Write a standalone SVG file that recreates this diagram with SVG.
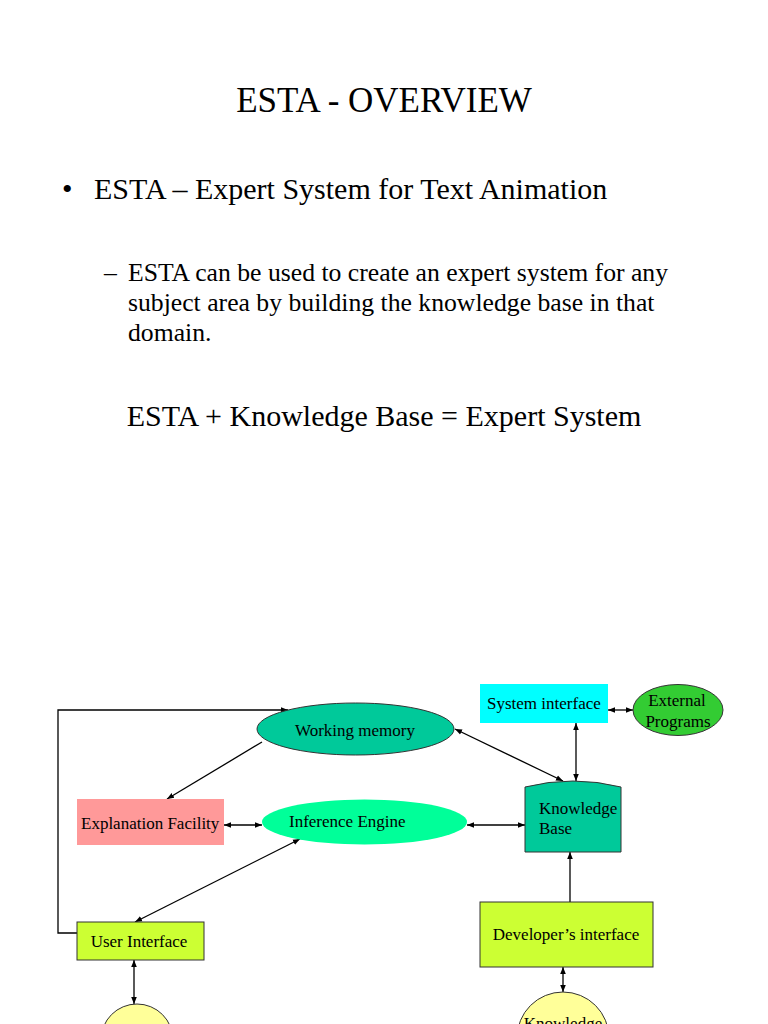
<svg xmlns="http://www.w3.org/2000/svg" width="768" height="1024" viewBox="0 0 768 1024">
<defs>
<marker id="ah" viewBox="0 0 10 10" refX="10" refY="5" markerWidth="7" markerHeight="7" markerUnits="userSpaceOnUse" orient="auto-start-reverse"><path d="M0,1 L10,5 L0,9 Z" fill="#000"/></marker>
<style>
text{font-family:"Liberation Serif","Times New Roman",serif;fill:#000}
.lbl{font-size:17px}
.c{fill:none;stroke:#000;stroke-width:1.3}
.s{stroke:#333;stroke-width:1}
</style>
</defs>
<rect width="768" height="1024" fill="#fff"/>
<text x="384" y="112" font-size="35" text-anchor="middle">ESTA - OVERVIEW</text>
<text x="62" y="199" font-size="30">•</text>
<text x="94" y="199" font-size="30">ESTA – Expert System for Text Animation</text>
<text x="104" y="281" font-size="25.7">–</text>
<text x="128" y="281" font-size="25.7">ESTA can be used to create an expert system for any</text>
<text x="128" y="311" font-size="25.7">subject area by building the knowledge base in that</text>
<text x="128" y="341" font-size="25.7">domain.</text>
<text x="384" y="426" font-size="30" text-anchor="middle">ESTA + Knowledge Base = Expert System</text>

<g id="connectors">
<polyline class="c" points="77,933 58,933 58,710 288,710" marker-end="url(#ah)"/>
<line class="c" x1="262" y1="742" x2="167" y2="799" marker-end="url(#ah)"/>
<line class="c" x1="224" y1="825" x2="262" y2="825" marker-start="url(#ah)" marker-end="url(#ah)"/>
<line class="c" x1="467" y1="825" x2="525" y2="825" marker-start="url(#ah)" marker-end="url(#ah)"/>
<line class="c" x1="455" y1="729" x2="563" y2="781" marker-start="url(#ah)" marker-end="url(#ah)"/>
<line class="c" x1="576" y1="723" x2="576" y2="781" marker-start="url(#ah)" marker-end="url(#ah)"/>
<line class="c" x1="608" y1="710" x2="633" y2="710" marker-start="url(#ah)" marker-end="url(#ah)"/>
<line class="c" x1="570" y1="902" x2="570" y2="852" marker-end="url(#ah)"/>
<line class="c" x1="563" y1="967" x2="563" y2="992" marker-start="url(#ah)" marker-end="url(#ah)"/>
<line class="c" x1="135" y1="922" x2="300" y2="839" marker-start="url(#ah)" marker-end="url(#ah)"/>
<line class="c" x1="134" y1="960" x2="134" y2="1004" marker-start="url(#ah)" marker-end="url(#ah)"/>
</g>

<g id="working-memory">
<ellipse cx="355.5" cy="729" rx="98.5" ry="26" fill="#00C99A" class="s"/>
<text x="355" y="736" class="lbl" text-anchor="middle">Working memory</text>
</g>
<g id="explanation-facility">
<rect x="77" y="799" width="147" height="46" fill="#FF9999"/>
<text x="81" y="829" class="lbl">Explanation Facility</text>
</g>
<g id="inference-engine">
<ellipse cx="364.5" cy="822" rx="102.5" ry="22.5" fill="#00FF99"/>
<text x="289" y="827" class="lbl">Inference Engine</text>
</g>
<g id="system-interface">
<rect x="480" y="684" width="128" height="39" fill="#00FFFF"/>
<text x="487" y="709" class="lbl">System interface</text>
</g>
<g id="external-programs">
<ellipse cx="678" cy="710" rx="45" ry="25.5" fill="#33CC33" class="s"/>
<text x="677" y="706" class="lbl" text-anchor="middle">External</text>
<text x="678" y="727" class="lbl" text-anchor="middle">Programs</text>
</g>
<g id="knowledge-base">
<path d="M525,787 Q573,775 621,787 L621,852 L525,852 Z" fill="#00C99A" class="s"/>
<text x="539" y="814" class="lbl">Knowledge</text>
<text x="539" y="834" class="lbl">Base</text>
</g>
<g id="developers-interface">
<rect x="480" y="902" width="173" height="65" fill="#CCFF33" class="s"/>
<text x="566" y="940" class="lbl" text-anchor="middle">Developer’s interface</text>
</g>
<g id="user-interface">
<rect x="77" y="922" width="127" height="38" fill="#CCFF33" class="s"/>
<text x="139" y="947" class="lbl" text-anchor="middle">User Interface</text>
</g>
<g id="knowledge-circle">
<circle cx="563" cy="1038" r="46" fill="#FFFF99" class="s"/>
<text x="563" y="1029" class="lbl" text-anchor="middle">Knowledge</text>
</g>
<g id="user-circle">
<circle cx="137" cy="1040" r="36" fill="#FFFF99" class="s"/>
</g>
</svg>
